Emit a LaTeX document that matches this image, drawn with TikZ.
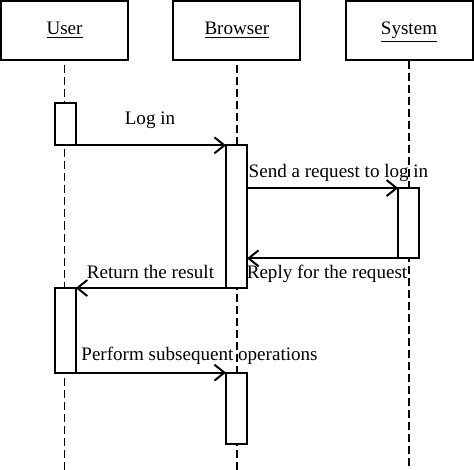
\documentclass[tikz,border=0pt]{standalone}
\usepackage{fontspec}
\setmainfont{Liberation Serif}
\usepackage{tikz}
\usetikzlibrary{arrows.meta, positioning, calc}

\tikzset{
  actor/.style={draw, line width=1.5pt, minimum width=95.25pt, minimum height=44.25pt,
                inner sep=0pt, text height=10pt, text depth=4pt,
                font=\fontsize{14.3}{17}\selectfont},
  act/.style={draw, fill=white, line width=1.5pt, minimum width=15.75pt,
              inner sep=0pt, outer sep=0pt},
  lifeline/.style={line width=1.2pt, dash pattern=on 6pt off 3pt},
  msg/.style={line width=1.5pt, -{Straight Barb[length=7.5pt, width=12pt, line width=1.5pt]}},
  lbl/.style={inner sep=0pt, font=\fontsize{14.3}{17}\selectfont}
}

\begin{document}
\begin{tikzpicture}[x=0.75pt, y=-0.75pt]
      \useasboundingbox (0,0) rectangle (474,470);

      % objects
      \node[actor] (user) at (64.5, 31) {\underline{User}};
      \node[actor] (browser) at (236.8, 31) {\underline{Browser}};
      \node[actor] (system) at (409, 31) {\underline{System}};

      % lifelines
      \coordinate (uend) at (64.5, 470);
      \coordinate (bend) at (236.8, 470);
      \coordinate (send) at (409, 470);
      \draw[lifeline] ([yshift=-3pt]user.south) -- (uend);
      \draw[lifeline] ([yshift=-3pt]browser.south) -- (bend);
      \draw[lifeline] (system.south) -- (send);

      % activations
      \node[act, minimum height=32pt] (uact1) at (65.2, 124) {};
      \node[act, minimum height=107pt] (bact1) at (236.5, 216.7) {};
      \node[act, minimum height=52.7pt] (sact) at (408.7, 223.2) {};
      \node[act, minimum height=63.5pt] (uact2) at (65.2, 330.3) {};
      \node[act, minimum height=53.7pt] (bact2) at (236.5, 408.5) {};

      % messages
      \draw[msg] (uact1.south east) -- (uact1.south east -| bact1.west);
      \draw[msg] (bact1.east |- sact.north west) -- (sact.north west);
      \draw[msg] (sact.south west) -- (sact.south west -| bact1.east);
      \draw[msg] (bact1.south west) -- (bact1.south west -| uact2.east);
      \draw[msg] (uact2.south east) -- (uact2.south east -| bact2.west);

      \node[lbl] (login) at (150, 120) {Log in};
      \node[lbl] (request) at (338.5, 173) {Send a request to log in};
      \node[lbl] (reply) at (327, 274) {Reply for the request};
      \node[lbl] (result) at (150.5, 271.5) {Return the result};
      \node[lbl] (perform) at (199.5, 355.5) {Perform subsequent operations};
\end{tikzpicture}
\end{document}
